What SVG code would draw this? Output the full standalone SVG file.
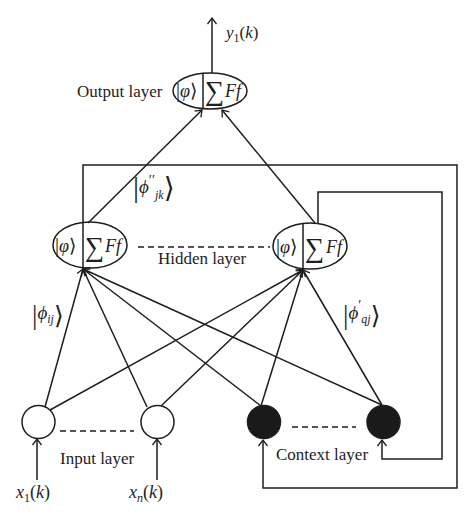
<svg xmlns="http://www.w3.org/2000/svg" width="474" height="518" viewBox="0 0 474 518">
<defs>
<marker id="ah" markerUnits="userSpaceOnUse" markerWidth="10" markerHeight="12" refX="6" refY="5" orient="auto" viewBox="0 0 10 10" overflow="visible">
<path d="M0,0.5 L6,5 L0,9.5" fill="none" stroke="#1e1e1e" stroke-width="1.3"/>
</marker>
<style>
.ln{stroke:#1e1e1e;stroke-width:1.5;fill:none}
.dash{stroke:#1e1e1e;stroke-width:1.5;stroke-dasharray:6 4;fill:none}
.nd{stroke:#1e1e1e;stroke-width:1.5;fill:none}
.ctx{stroke:#1e1e1e;stroke-width:1.5;fill:#1a1a1a}
text{font-family:"Liberation Serif","DejaVu Serif",serif;fill:#1e1e1e}
.lbl{font-size:17px}
.m{font-style:italic}
.sig{font-size:27px;font-style:normal}
</style>
</defs>
<rect width="474" height="518" fill="#fff"/>

<g id="connectors">
  <line class="ln" x1="212" y1="73" x2="212" y2="18" marker-end="url(#ah)"/>
  <line class="ln" x1="88" y1="223" x2="202" y2="110" marker-end="url(#ah)"/>
  <line class="ln" x1="315" y1="223" x2="222" y2="110" marker-end="url(#ah)"/>
  <polyline class="ln" points="83,223 83,165 457,165 457,488 263,488 263,440" marker-end="url(#ah)"/>
  <polyline class="ln" points="318,223 318,192 442,192 442,459 382,459 382,440" marker-end="url(#ah)"/>
  <line class="ln" x1="45" y1="407" x2="83" y2="269" marker-end="url(#ah)"/>
  <line class="ln" x1="147" y1="407" x2="83" y2="269" marker-end="url(#ah)"/>
  <line class="ln" x1="261" y1="406" x2="83" y2="269" marker-end="url(#ah)"/>
  <line class="ln" x1="382" y1="405" x2="83" y2="269" marker-end="url(#ah)"/>
  <line class="ln" x1="50" y1="410" x2="303" y2="270" marker-end="url(#ah)"/>
  <line class="ln" x1="161" y1="406" x2="303" y2="270" marker-end="url(#ah)"/>
  <line class="ln" x1="261" y1="406" x2="303" y2="270" marker-end="url(#ah)"/>
  <line class="ln" x1="382" y1="405" x2="303" y2="270" marker-end="url(#ah)"/>
  <line class="ln" x1="37" y1="480" x2="37" y2="439" marker-end="url(#ah)"/>
  <line class="ln" x1="157" y1="480" x2="157" y2="439" marker-end="url(#ah)"/>
  <line class="dash" x1="138" y1="247" x2="270" y2="247"/>
  <line class="dash" x1="60" y1="431" x2="134" y2="431"/>
  <line class="dash" x1="292" y1="427" x2="356" y2="427"/>
</g>

<g id="output-node">
  <ellipse class="nd" cx="210" cy="91" rx="37" ry="18"/>
  <line class="ln" x1="203" y1="73" x2="203" y2="109"/>
  <text x="176" y="97" font-size="18"><tspan font-size="20">|</tspan><tspan class="m">φ</tspan><tspan font-size="19">⟩</tspan></text>
  <text x="205" y="100" class="sig">∑</text>
  <text x="225" y="97" font-size="18" class="m">Ff</text>
  <text x="77" y="97" class="lbl">Output layer</text>
  <text x="226" y="38" font-size="17"><tspan class="m">y</tspan><tspan font-size="12" dy="4">1</tspan><tspan dy="-4">(</tspan><tspan class="m">k</tspan>)</text>
</g>

<g id="hidden-node-1">
  <ellipse class="nd" cx="90" cy="245" rx="37" ry="23"/>
  <line class="ln" x1="83" y1="222" x2="83" y2="268"/>
  <text x="55" y="252" font-size="18"><tspan font-size="20">|</tspan><tspan class="m">φ</tspan><tspan font-size="19">⟩</tspan></text>
  <text x="85" y="256" class="sig">∑</text>
  <text x="105" y="252" font-size="18" class="m">Ff</text>
</g>

<g id="hidden-node-2">
  <ellipse class="nd" cx="310" cy="246" rx="37" ry="23"/>
  <line class="ln" x1="303" y1="223" x2="303" y2="269"/>
  <text x="276" y="253" font-size="18"><tspan font-size="20">|</tspan><tspan class="m">φ</tspan><tspan font-size="19">⟩</tspan></text>
  <text x="305" y="257" class="sig">∑</text>
  <text x="326" y="253" font-size="18" class="m">Ff</text>
</g>
<text x="158" y="264" class="lbl">Hidden layer</text>

<g id="input-node-1">
  <circle class="nd" cx="38.5" cy="422" r="16.5" fill="#fff"/>
  <text x="16" y="498" font-size="18"><tspan class="m">x</tspan><tspan font-size="12" dy="4">1</tspan><tspan dy="-4">(</tspan><tspan class="m">k</tspan>)</text>
</g>
<g id="input-node-n">
  <circle class="nd" cx="157.5" cy="422" r="16.5" fill="#fff"/>
  <text x="129" y="498" font-size="18"><tspan class="m">x</tspan><tspan font-size="12" class="m" dy="4">n</tspan><tspan dy="-4">(</tspan><tspan class="m">k</tspan>)</text>
</g>
<text x="60" y="464" class="lbl">Input layer</text>

<g id="context-node-1">
  <circle class="ctx" cx="264" cy="422" r="16.5"/>
</g>
<g id="context-node-2">
  <circle class="ctx" cx="383.5" cy="422" r="16.5"/>
</g>
<text x="276" y="460" class="lbl">Context layer</text>

<g id="weight-labels">
  <text x="133" y="197" font-size="19"><tspan font-size="30">|</tspan><tspan class="m" dy="-4">ϕ</tspan><tspan font-size="14" dy="-8">′′</tspan><tspan class="m" font-size="12" dy="14">jk</tspan><tspan font-size="28" dy="-2">⟩</tspan></text>
  <text x="32" y="324" font-size="19"><tspan font-size="27">|</tspan><tspan class="m" dy="-5">ϕ</tspan><tspan class="m" font-size="12" dy="4">ij</tspan><tspan font-size="25" dy="1">⟩</tspan></text>
  <text x="343" y="324" font-size="19"><tspan font-size="27">|</tspan><tspan class="m" dy="-5">ϕ</tspan><tspan font-size="14" dy="-9">′</tspan><tspan class="m" font-size="12" dy="13">qj</tspan><tspan font-size="25" dy="1">⟩</tspan></text>
</g>
</svg>
